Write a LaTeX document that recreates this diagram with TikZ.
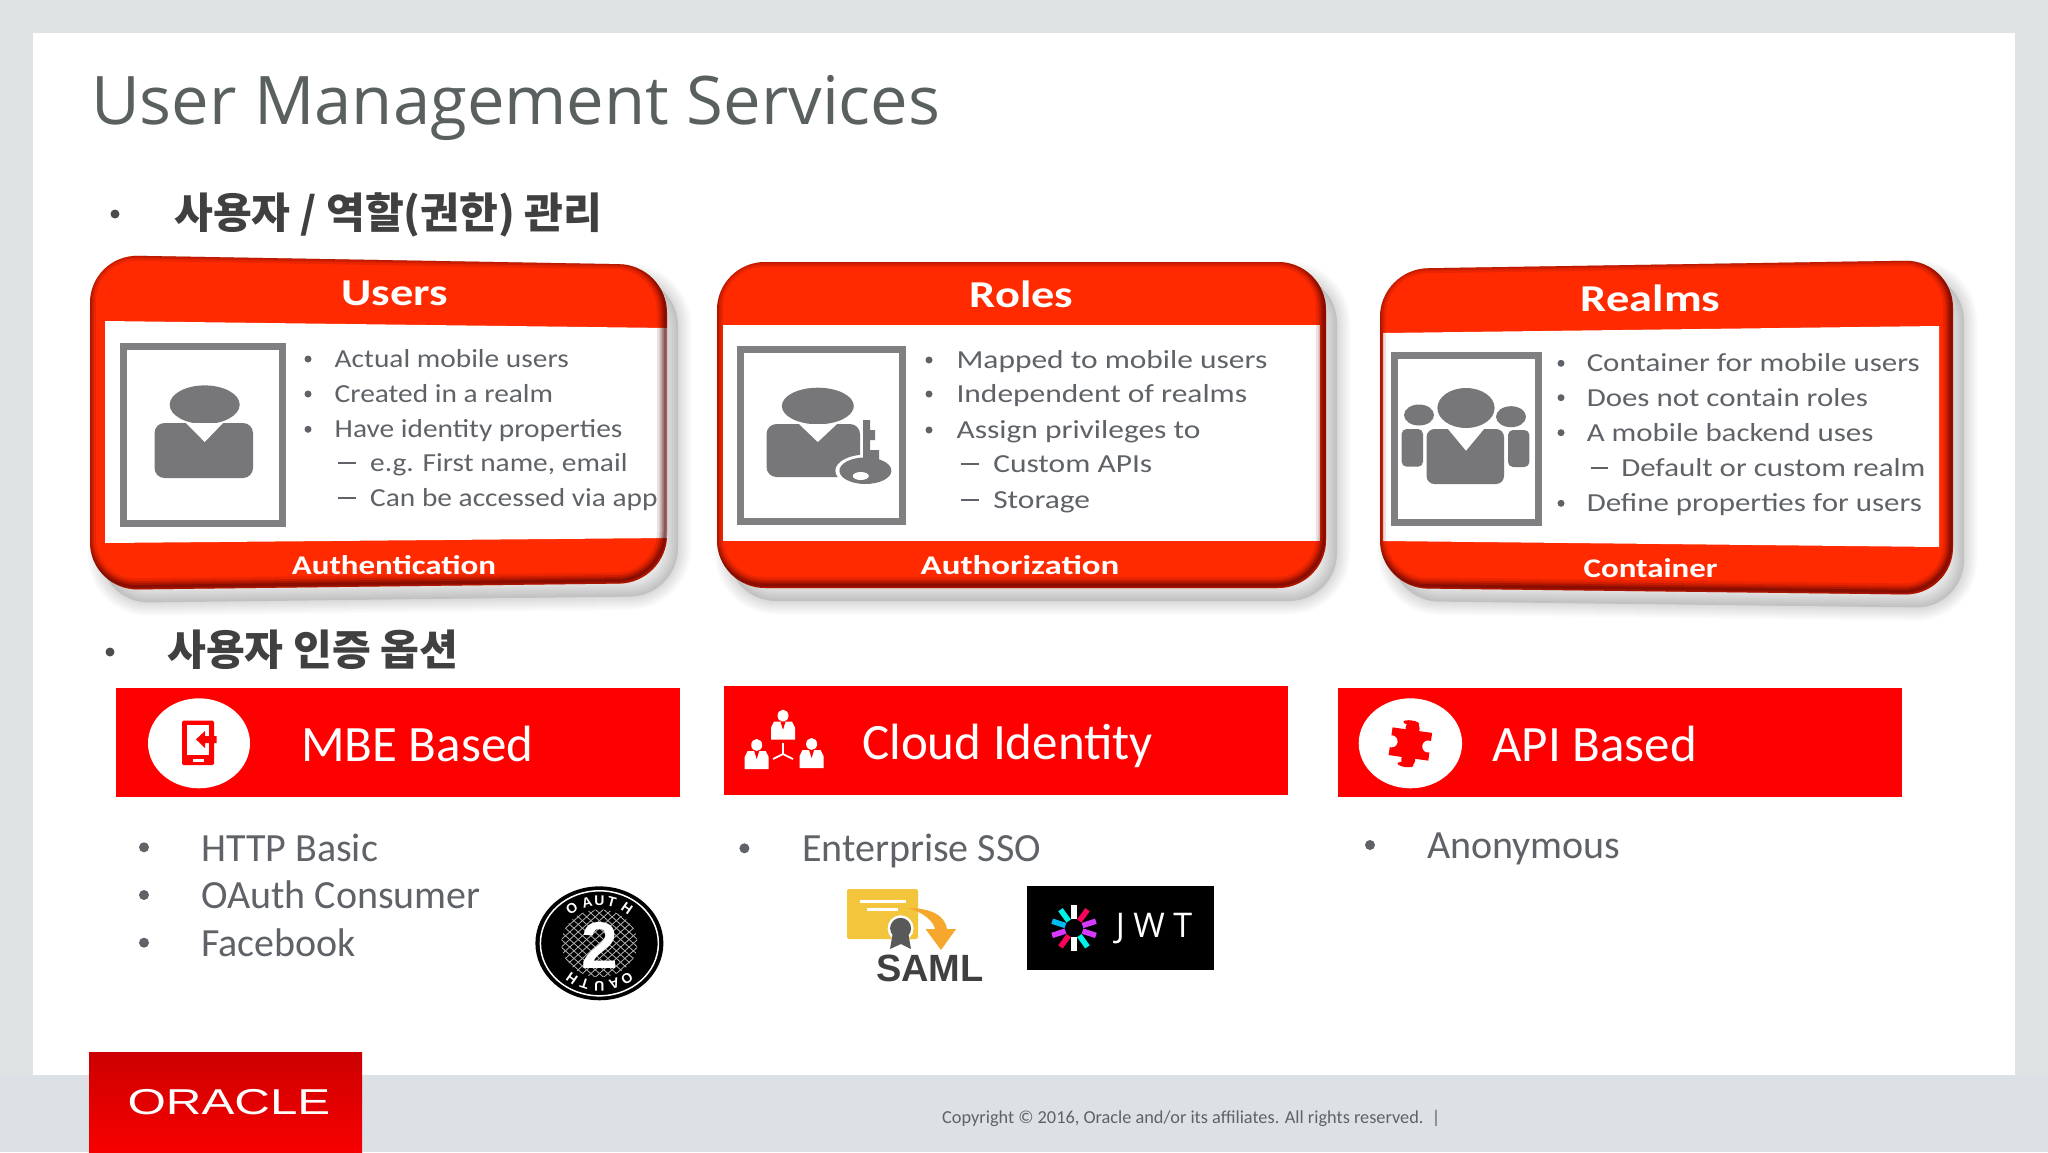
\documentclass[tikz,border=0pt]{standalone}
\usepackage{fontspec}
\setmainfont{Carlito}
\newfontfamily\titlefont{Open Sans}
\newfontfamily\krfont{Noto Sans CJK KR}
\newfontfamily\logofont{Liberation Sans}
\usetikzlibrary{positioning}
\definecolor{pagegrey}{HTML}{DEE3E3}
\definecolor{footgrey}{HTML}{DBE1E4}
\definecolor{cardred}{HTML}{FF2A00}
\definecolor{barred}{HTML}{FF0000}
\definecolor{icongrey}{HTML}{77777A}
\definecolor{framegrey}{HTML}{808082}
\definecolor{textgrey}{HTML}{5F6368}
\definecolor{titlegrey}{HTML}{5A6060}
\definecolor{certyellow}{HTML}{F2C53D}
\definecolor{samlorange}{HTML}{F6A82E}
\tikzset{
cardtitle/.style={white,font=\bfseries\fontsize{38}{38}\selectfont,xscale=1.22,transform shape,inner sep=0pt},
cardfoot/.style={white,font=\bfseries\fontsize{27}{27}\selectfont,xscale=1.22,transform shape,inner sep=0pt},
cardtext/.style={textgrey,font=\fontsize{26}{26}\selectfont,xscale=#1,transform shape,anchor=mid west,yshift=-6pt,inner sep=0pt},
listtext/.style={textgrey,font=\fontsize{40}{40}\selectfont,anchor=mid west,yshift=-11.5pt,inner sep=0pt},
bartext/.style={white,font=\fontsize{51}{51}\selectfont,anchor=mid west,yshift=-14pt,inner sep=0pt},
kohead/.style={black!75,font=\krfont\bfseries\fontsize{42.2}{42.2}\selectfont,anchor=mid west,yshift=-13pt,inner sep=0pt},
idframe/.style={draw=framegrey,line width=7pt},
oauthletter/.style={white,font=\logofont\bfseries\fontsize{14}{14}\selectfont,inner sep=0pt},
}
% red card: shadow, body, white panel, dark rim
\newcommand{\redcard}[2]{
\begin{scope}[rounded corners=48pt]
\fill[black,opacity=.1,shift={(11,13)}] #1;
\foreach \w in {3,6,...,27}
\draw[black,opacity=.015,line width=\w pt,shift={(11,13)}] #1;
\fill[cardred] #1;
\begin{scope}
\clip #1;
\fill[white,sharp corners] #2;
\foreach \w/\o in {16/.12,11/.18,7/.25,3/.35}
\draw[black!70!red,opacity=\o,line width=\w pt,shift={(-2,-3)}] #1;
\end{scope}
\end{scope}
}
\newcommand{\minibust}[2]{
\fill[white] (#1,#2) ellipse [x radius=5.5,y radius=6];
\fill[white] ({#1-9},{#2+6}) -- ({#1+9},{#2+6}) -- ({#1+12},{#2+12}) -- ({#1+12},{#2+24}) -- ({#1-12},{#2+24}) -- ({#1-12},{#2+12}) -- cycle;
\fill[barred] ({#1-2.5},{#2+6}) -- ({#1+2.5},{#2+6}) -- (#1,{#2+14}) -- cycle;
}
\begin{document}
\begin{tikzpicture}[x=1pt,y=-1pt]
\useasboundingbox (0,0) rectangle (2048,1152);
\fill[pagegrey] (0,0) rectangle (2048,1152);
\fill[white] (33,33) rectangle (2015,1075);
\fill[footgrey] (0,1075) rectangle (2048,1152);

\node[titlegrey,font=\titlefont\fontsize{67}{67}\selectfont,anchor=mid west,yshift=-24pt,inner sep=0pt] (title) at (91,98) {User Management Services};
\fill[black!70] (115,214) circle [radius=4.5];
\node[kohead] (head1) at (174,213) {사용자 / 역할(권한) 관리};
\fill[black!70] (110,652) circle [radius=4.5];
\node[kohead] (head2) at (167,650) {사용자 인증 옵션};

% users card
\redcard{(90,255) -- (667,265) -- (667,583) -- (90,590) -- cycle}{(105,321) -- (668,328) -- (668,538) -- (105,543) -- cycle}
\node[cardtitle] (userstitle) at (394.5,293) {Users};
\node[cardfoot] (usersfoot) at (394,565) {Authentication};
\draw[idframe] (123.5,346) rectangle (282,523);
\fill[icongrey] (204.7,404.7) ellipse [x radius=35,y radius=19.3];
\fill[icongrey,rounded corners=10pt] (154.5,423) rectangle (253,478);
\fill[white] (186,423) -- (223,423) -- (204.7,442) -- cycle;
\foreach \ypos/\line in {359/Actual mobile users,394/Created in a realm,429.3/Have identity properties}{
\fill[textgrey] (308,\ypos) circle [radius=3.5];
\node[cardtext=1.13] (users\ypos) at (334.5,\ypos) {\line};
}
\foreach \ypos/\line in {463.3/{e.g. First name, email},498.3/Can be accessed via app}{
\draw[textgrey,line width=1.8pt] (338,\ypos) -- (356,\ypos);
\node[cardtext=1.13] (users\ypos) at (370,\ypos) {\line};
}

% roles card
\redcard{(717,262) -- (1326,262) -- (1326,588) -- (717,588) -- cycle}{(723,325) -- (1319.5,325) -- (1319.5,541) -- (723,541) -- cycle}
\node[cardtitle] (rolestitle) at (1021.5,294) {Roles};
\node[cardfoot,xscale=1.06] (rolesfoot) at (1020,565) {Authorization};
\draw[idframe] (740.5,349) rectangle (902,521);
\fill[icongrey] (817.8,406) ellipse [x radius=36,y radius=18.3];
\fill[icongrey,rounded corners=10pt] (766.5,424) rectangle (860,477);
\fill[white] (799,424) -- (837,424) -- (817.8,442) -- cycle;
% key
\fill[white] (865.4,470.7) ellipse [x radius=30,y radius=16];
\fill[icongrey] (863,420) rectangle (870,462) (870,430) rectangle (875,440) (870,450) rectangle (879,462);
\fill[icongrey] (865.4,470.7) ellipse [x radius=26,y radius=13.3];
\fill[white] (860.8,476) ellipse [x radius=8,y radius=4];
\foreach \ypos/\line in {360/Mapped to mobile users,394/Independent of realms,430/Assign privileges to}{
\fill[textgrey] (929,\ypos) circle [radius=3.5];
\node[cardtext=1.21] (roles\ypos) at (956.3,\ypos) {\line};
}
\foreach \ypos/\line in {464.3/Custom APIs,500/Storage}{
\draw[textgrey,line width=1.8pt] (961,\ypos) -- (978.6,\ypos);
\node[cardtext=1.21] (roles\ypos) at (993,\ypos) {\line};
}

% realms card
\redcard{(1380,269) -- (1953,260) -- (1953,595) -- (1380,588) -- cycle}{(1383,333) -- (1939,326) -- (1939,547) -- (1383,541) -- cycle}
\node[cardtitle] (realmstitle) at (1650.6,298) {Realms};
\node[cardfoot] (realmsfoot) at (1650.6,568) {Container};
\draw[idframe] (1394.5,355) rectangle (1538.5,522.5);
\fill[icongrey] (1419,415) ellipse [x radius=15,y radius=10.5];
\fill[icongrey] (1511,416.7) ellipse [x radius=15,y radius=10.5];
\fill[icongrey] (1466,408) ellipse [x radius=28.6,y radius=20];
\fill[icongrey,rounded corners=8pt] (1426.5,429) rectangle (1504,484);
\fill[icongrey,rounded corners=5pt] (1401.6,429) rectangle (1423,466.7);
\fill[icongrey,rounded corners=5pt] (1508,430) rectangle (1529.4,467);
\fill[white] (1448,429) -- (1484,429) -- (1466,450.7) -- cycle;
\foreach \ypos/\line in {363.3/Container for mobile users,397.7/Does not contain roles,432.7/A mobile backend uses,503.3/Define properties for users}{
\fill[textgrey] (1561,\ypos) circle [radius=3.5];
\node[cardtext=1.19] (realms\ypos) at (1586.5,\ypos) {\line};
}
\draw[textgrey,line width=1.8pt] (1590.6,468) -- (1607.8,468);
\node[cardtext=1.19] (realmssub) at (1621,468) {Default or custom realm};

% option bars
\fill[barred] (116,688.3) rectangle (680,797.3);
\fill[barred] (724,686) rectangle (1288,795);
\fill[barred] (1338.4,688.3) rectangle (1902,797.3);
\node[bartext] (mbe) at (301,745) {MBE Based};
\node[bartext] (cloud) at (862,743) {Cloud Identity};
\node[bartext] (api) at (1492,745) {API Based};

% phone icon
\fill[white] (199,743.3) ellipse [x radius=51,y radius=45];
\fill[barred,rounded corners=1.5pt] (182,720.7) rectangle (214,765);
\fill[white] (187,725) rectangle (209,755);
\fill[barred] (196,739.3) -- (205,731) -- (205,736) -- (216.6,736) -- (216.6,743) -- (205,743) -- (205,748) -- cycle;
\fill[white] (193,759) rectangle (204,762);

% team icon
\minibust{783}{715.7}
\minibust{756.7}{745}
\minibust{811.6}{744}
\draw[white,line width=1.8pt] (783,754) -- (783,743) (783,754) -- (773,759) (783,754) -- (793,759);

% puzzle icon
\fill[white] (1410.4,743.3) ellipse [x radius=51.7,y radius=45];
\begin{scope}[shift={(1410.4,744)},rotate=-8]
\fill[barred] (-20,-14) rectangle (20,14);
\fill[barred] (0,-16) circle [radius=7];
\fill[barred] (0,16) circle [radius=7];
\fill[barred] (-2,-21) ellipse [x radius=8,y radius=2.5];
\fill[barred] (-2,21) ellipse [x radius=8,y radius=2.5];
\fill[white] (-19,0) circle [radius=6];
\fill[white] (18,0) circle [radius=6];
\end{scope}

% lists
\foreach \ypos/\line in {847.3/HTTP Basic,895/OAuth Consumer,942.7/Facebook}{
\fill[textgrey] (144,\ypos) circle [radius=5];
\node[listtext] (mbe\ypos) at (201,\ypos) {\line};
}
\fill[textgrey] (744.4,848.3) circle [radius=5];
\node[listtext] (sso) at (802,847.3) {Enterprise SSO};
\fill[textgrey] (1370,845) circle [radius=5];
\node[listtext] (anon) at (1427,845) {Anonymous};

% oauth badge
\begin{scope}[shift={(599.4,943.3)},yscale=.89]
\fill[black] (0,0) circle [radius=64];
\draw[white,line width=1.5pt] (0,0) circle [radius=59];
\begin{scope}
\clip (0,0) circle [radius=38];
\foreach \k in {-8,...,8}{
\draw[white!70!black,line width=.8pt,rotate=45] (-60,\k*6) -- (60,\k*6);
\draw[white!70!black,line width=.8pt,rotate=-45] (-60,\k*6) -- (60,\k*6);
}
\end{scope}
\foreach \ang/\ch in {125/O,105/A,90/U,75/T,55/H,-55/O,-72/A,-90/U,-108/T,-125/H}
\node[oauthletter,rotate=\ang-90] (oa\ang) at (\ang:48pt) {\ch};
\end{scope}
\node[white,font=\logofont\bfseries\fontsize{66}{66}\selectfont,inner sep=0pt] (oauthtwo) at (599.4,945) {2};

% saml logo
\fill[certyellow,rounded corners=2pt] (847,889) rectangle (918,939);
\draw[white,line width=2.5pt] (859.5,901.7) -- (905.8,901.7) (867.4,909.3) -- (897.8,909.3);
\fill[white] (900.6,928.3) circle [radius=13];
\fill[black!65] (900.6,928.3) circle [radius=10.5];
\fill[black!65] (893,932) -- (908,932) -- (911,949) -- (901,944) -- (890,949) -- cycle;
\fill[samlorange] (908,908) .. controls (930,908) and (945,915) .. (947,929) -- (956,929) -- (941,950) -- (925.5,929) -- (935,929) .. controls (933,920) and (922,912) .. (908,908) -- cycle;
\node[black!75,font=\logofont\bfseries\fontsize{38}{38}\selectfont,inner sep=0pt] (saml) at (930,968.7) {SAML};

% jwt logo
\fill[black] (1027,886) rectangle (1214,970);
\foreach \ang/\col in {90/white,54/{rgb,255:red,251;green,1;blue,91},18/{rgb,255:red,214;green,58;blue,255},-18/{rgb,255:red,214;green,58;blue,255},-54/{rgb,255:red,0;green,242;blue,230},-90/white,-126/{rgb,255:red,251;green,1;blue,91},-162/{rgb,255:red,214;green,58;blue,255},162/{rgb,255:red,0;green,185;blue,241},126/{rgb,255:red,0;green,242;blue,230}}
\draw[color=\col,line width=5.5pt] ([shift={(1074,928.3)}]\ang:9pt) -- ([shift={(1074,928.3)}]\ang:23pt);
\node[white,font=\titlefont\fontsize{34}{34}\addfontfeature{LetterSpace=25}\selectfont,inner sep=0pt] (jwt) at (1154,928.3) {JWT};

% oracle badge
\shade[top color=red!80!black,bottom color=red!97!black,shading angle=0] (89,1052) rectangle (362,1152);
\node[white,font=\logofont\fontsize{36}{36}\selectfont,xscale=1.37,transform shape,inner sep=0pt] (oracle) at (229,1102) {ORACLE};
\node[textgrey,font=\fontsize{18.3}{18.3}\selectfont,anchor=mid west,yshift=-4pt,inner sep=0pt] (copy) at (942,1117) {Copyright © 2016, Oracle and/or its affiliates. All rights reserved.~~|};
\end{tikzpicture}
\end{document}
